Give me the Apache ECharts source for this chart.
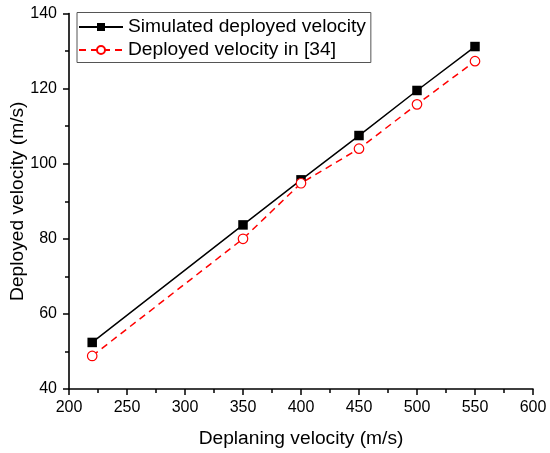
<!DOCTYPE html>
<html>
<head>
<meta charset="utf-8">
<script src="https://cdn.jsdelivr.net/npm/echarts@6/dist/echarts.min.js"></script>
<style>html,body{margin:0;padding:0;background:#fff}#c{width:550px;height:453px}</style>
</head>
<body>
<div id="c"></div>
<script>
var deplaning = [220, 350, 400, 450, 500, 550];
var simulated = [52.4, 83.7, 95.7, 107.5, 119.5, 131.2];
var reference34 = [48.8, 80.0, 94.8, 104.0, 115.8, 127.3];
var seriesNames = ['Simulated deployed velocity', 'Deployed velocity in [34]'];
var xTitle = 'Deplaning velocity (m/s)';
var yTitle = 'Deployed velocity (m/s)';

function pairs(xs, ys) { return xs.map(function (x, i) { return [x, ys[i]]; }); }

var font = 'Arial, "Liberation Sans", sans-serif';
var chart = echarts.init(document.getElementById('c'));
chart.setOption({
  animation: false,
  backgroundColor: '#fff',
  grid: { left: 69, right: 17, top: 13.5, bottom: 64, containLabel: false, outerBoundsMode: 'none' },
  legend: {
    orient: 'vertical',
    left: 77, top: 12.5,
    padding: [5, 5, 3, 1],
    itemGap: 4,
    itemWidth: 44, itemHeight: 10,
    backgroundColor: '#fff',
    borderColor: '#555', borderWidth: 1, borderRadius: 0,
    textStyle: { fontFamily: font, fontSize: 19.2, color: '#000' },
    data: seriesNames
  },
  xAxis: {
    type: 'value', min: 200, max: 600, interval: 50,
    name: xTitle, nameLocation: 'middle', nameGap: 40, nameMoveOverlap: false,
    nameTextStyle: { fontFamily: font, fontSize: 19.2, color: '#000' },
    axisLine: { lineStyle: { color: '#000', width: 1.6 } },
    axisTick: { inside: false, length: 6, lineStyle: { color: '#000', width: 1.5 } },
    minorTick: { show: true, splitNumber: 2, length: 4, lineStyle: { color: '#000', width: 1.5 } },
    axisLabel: { fontFamily: font, fontSize: 16, color: '#000', margin: 11 },
    splitLine: { show: false }
  },
  yAxis: {
    type: 'value', min: 40, max: 140, interval: 20,
    name: yTitle, nameLocation: 'middle', nameGap: 42, nameMoveOverlap: false,
    nameTextStyle: { fontFamily: font, fontSize: 19.2, color: '#000' },
    axisLine: { show: true, lineStyle: { color: '#000', width: 1.6 } },
    axisTick: { show: true, inside: false, length: 6, lineStyle: { color: '#000', width: 1.5 } },
    minorTick: { show: true, splitNumber: 2, length: 4, lineStyle: { color: '#000', width: 1.5 } },
    axisLabel: { fontFamily: font, fontSize: 16, color: '#000', margin: 12 },
    splitLine: { show: false }
  },
  series: [
    {
      name: seriesNames[0], type: 'line', data: pairs(deplaning, simulated),
      symbol: 'rect', symbolSize: 9.5,
      lineStyle: { color: '#000', width: 1.5 },
      itemStyle: { color: '#000', borderWidth: 0 }
    },
    {
      name: seriesNames[1], type: 'line', data: pairs(deplaning, reference34),
      symbol: 'circle', symbolSize: 9.5,
      lineStyle: { color: '#ff0000', width: 1.5, type: [7, 5] },
      itemStyle: { color: '#fff', borderColor: '#ff0000', borderWidth: 1.2 }
    }
  ]
});
</script>
</body>
</html>
